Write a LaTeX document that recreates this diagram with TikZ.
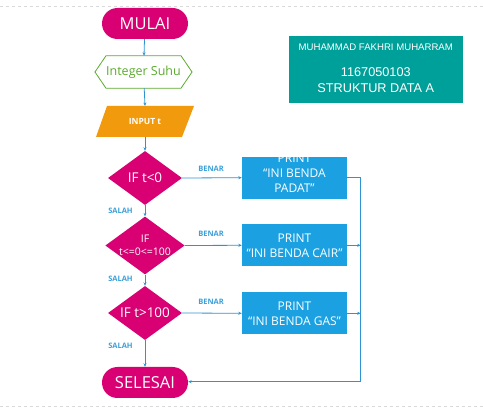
\documentclass[tikz,border=0pt]{standalone}
\usepackage{fontspec}
\setmainfont{Open Sans}
\newfontfamily\arialf{Liberation Sans}
\usetikzlibrary{shapes.geometric,shapes.misc,arrows.meta}
\definecolor{mag}{HTML}{D80073}
\definecolor{cyanbox}{HTML}{1BA1E2}
\definecolor{lineblue}{HTML}{2F93D1}
\definecolor{lblblue}{HTML}{3AA0DA}
\definecolor{tealbox}{HTML}{00A09A}
\definecolor{amberbox}{HTML}{F29A0E}
\definecolor{greenhex}{HTML}{5BAA2E}
\tikzset{
  term/.style={rounded rectangle, fill=mag, text=white, minimum width=86pt, minimum height=31pt, inner sep=0pt, font=\fontsize{16.5}{18}\selectfont},
  dec/.style={diamond, fill=mag, text=white, minimum width=74pt, minimum height=54pt, inner sep=0pt, aspect=1.37},
  prbox/.style={rectangle, fill=cyanbox, text=white, minimum width=105pt, minimum height=42pt, inner sep=0pt, align=center, font=\fontsize{12}{15}\selectfont},
  conn/.style={draw=lineblue, line width=0.8pt, -{Stealth[length=3.5pt,width=3pt]}},
  plain/.style={draw=lineblue, line width=0.8pt},
  lbl/.style={text=lblblue, font=\bfseries\fontsize{7.5}{8}\selectfont, inner sep=0pt}
}
\begin{document}
\begin{tikzpicture}[x=1pt,y=-1pt]
\useasboundingbox (0,0) rectangle (483,409);
\draw[gray!30, dashed, line width=0.8pt] (0,6) -- (483,6);
\draw[gray!30, dashed, line width=0.8pt] (0,406) -- (483,406);

\node[term] (start) at (145,23.5) {MULAI};
\node[minimum width=70pt, minimum height=32pt, inner sep=0pt, text=greenhex, font=\fontsize{12.5}{14}\selectfont] (hex) at (143.5,72) {Integer Suhu};
\draw[greenhex, line width=0.8pt] (hex.north west) -- (hex.north east) -- ([xshift=11pt]hex.east) -- (hex.south east) -- (hex.south west) -- ([xshift=-11pt]hex.west) -- cycle;
\fill[amberbox] (107,106) -- (194,106) -- (182,137) -- (96,137) -- cycle;
\node[text=white, font=\bfseries\fontsize{8.5}{10}\selectfont, minimum width=80pt, minimum height=31pt, inner sep=0pt] (inp) at (145,121.5) {INPUT t};

\node[dec, font=\fontsize{13.5}{14}\selectfont] (d1) at (145,178) {IF t<0};
\node[dec, font=\fontsize{10.5}{12.5}\selectfont, align=center] (d2) at (145,245.5) {IF\\t<=0<=100};
\node[dec, font=\fontsize{13.5}{14}\selectfont] (d3) at (145,313) {IF t>100};
\node[term] (end) at (145,382.5) {SELESAI};

\node[prbox] (b1) at (294.5,177.7) {\raisebox{5pt}{}\\[-26pt]PRINT\\“INI BENDA\\PADAT”};
\node[prbox] (b2) at (294.5,245.3) {PRINT\\“INI BENDA CAIR”};
\node[prbox] (b3) at (294.5,313.3) {PRINT\\“INI BENDA GAS”};

\node[rectangle, fill=tealbox, text=white, minimum width=174pt, minimum height=67pt, inner sep=0pt] (name) at (375.8,69.4) {};
\node[text=white, font=\arialf\fontsize{9.6}{10}\selectfont, inner sep=0pt] (nm) at (375.8,47.7) {MUHAMMAD FAKHRI MUHARRAM};
\node[text=white, font=\arialf\fontsize{12.7}{15.5}\selectfont, align=center, inner sep=0pt] (nim) at (375.8,80) {1167050103\\STRUKTUR DATA A};

\draw[conn] (start) -- (hex);
\draw[conn] (hex) -- (inp.south |- 0,106);
\draw[conn] (145,137) -- (d1.north);
\draw[conn] (d1.south) -- (d2.north);
\draw[conn] (d2.south) -- (d3.north);
\draw[conn] (d3.south) -- (end.north);

\draw[conn] (d1.east) -- (b1.west);
\draw[conn] (d2.east) -- (b2.west);
\draw[conn] (d3.east) -- (b3.west);

\coordinate (r1) at (360.7,177.7);
\coordinate (r4) at (360.7,381.7);
\draw[plain] (b1.east) -- (r1) -- (r4);
\draw[conn] (r4) -- (end.east |- r4);
\draw[conn] (b2.east) -- (b2.east -| r1);
\draw[conn] (b3.east) -- (b3.east -| r1);

\node[lbl] (t1) at (211,169) {BENAR};
\node[lbl] (t2) at (211,234) {BENAR};
\node[lbl] (t3) at (211,302) {BENAR};
\node[lbl] (f1) at (120.5,210.5) {SALAH};
\node[lbl] (f2) at (120.5,279) {SALAH};
\node[lbl] (f3) at (120.5,346) {SALAH};
\end{tikzpicture}
\end{document}
